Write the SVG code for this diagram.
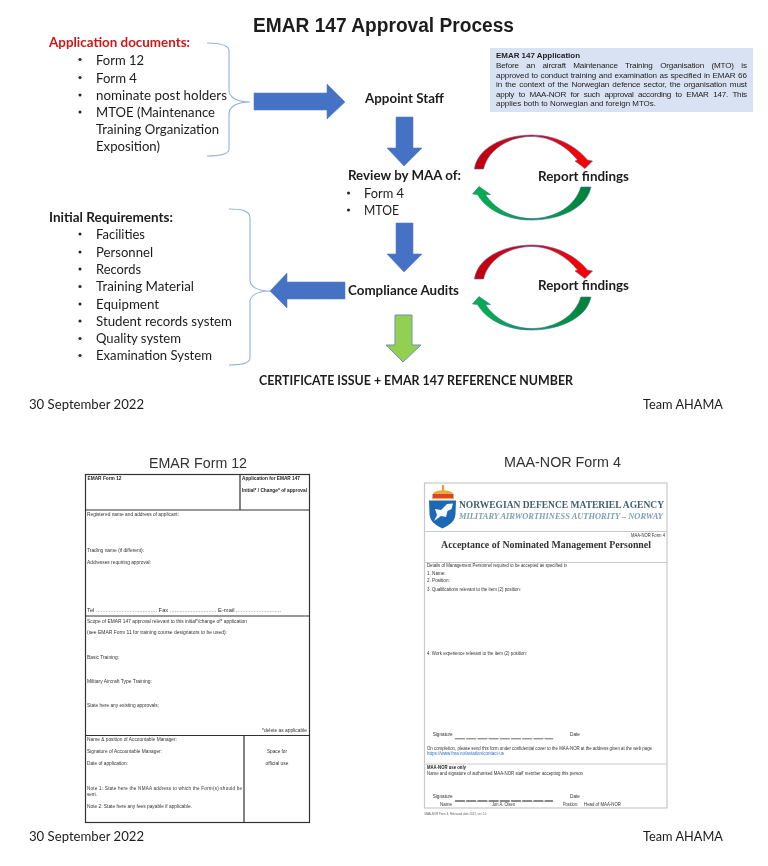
<svg xmlns="http://www.w3.org/2000/svg" width="768" height="866" viewBox="0 0 768 866">
<style>
text{font-family:"Lato","Liberation Sans",sans-serif;fill:#1c1c1c;font-size:14px}
.b{font-weight:700}
.t{font-family:"Liberation Sans",Arial,sans-serif}
.s{font-family:"Liberation Sans",Arial,sans-serif;font-size:8.1px;fill:#222}
.f{font-family:"Liberation Sans",Arial,sans-serif;font-size:4.6px;fill:#333}
.fb{font-family:"Liberation Sans",Arial,sans-serif;font-size:4.6px;fill:#222;font-weight:700}
.g{font-family:"Liberation Sans",Arial,sans-serif;font-size:15px;fill:#333}
.k{fill:none;stroke:#8fb0e3;stroke-width:1.1}
.a{fill:#4472c4;stroke:#5b82c8;stroke-width:.6}
.ln{fill:none;stroke:#333;stroke-width:1.2}
.lg{fill:none;stroke:#c9c9c9;stroke-width:1.2}
.ca{stroke:#4a68a8;stroke-width:.6}
.d{fill:#222}
</style>
<defs>
<filter id="soft" x="-2%" y="-2%" width="104%" height="104%"><feGaussianBlur stdDeviation="0.3"/></filter>
<filter id="softer" x="-2%" y="-2%" width="104%" height="104%"><feGaussianBlur stdDeviation="0.35"/></filter>
<linearGradient id="red" x1="0" x2="1" y1="0" y2="0"><stop offset="0" stop-color="#c00010"/><stop offset=".75" stop-color="#f00008"/><stop offset="1" stop-color="#ff0000"/></linearGradient>
<linearGradient id="green" x1="0" x2="1" y1="0" y2="0"><stop offset="0" stop-color="#00b050"/><stop offset=".6" stop-color="#00a048"/><stop offset="1" stop-color="#008038"/></linearGradient>
<g id="cycle">
<path class="ca" fill="url(#red)" d="M474.500 169C477 149 502 135 532 135C556 135 576 146 587.500 160L592.500 161L585 168.500L575 161L577.500 160C567 147 551 136.500 532 136.500C508 136.500 488 150 483.500 169Z"/>
<path class="ca" fill="url(#green)" d="M590.800 187C588 206 562 220 532 220C505 220 486 209 477.500 194.500L472.500 194L479 186.500L490.500 194.500L485.500 194.500C494 208 511 218.500 532 218.500C556 218.500 576 205 580.800 187Z"/>
</g>
</defs>
<g filter="url(#soft)">
<g id="title"><text class="t b" x="253" y="32" style="font-size:20px" textLength="261" lengthAdjust="spacingAndGlyphs">EMAR 147 Approval Process</text></g>
<g id="connectors">
<path class="k" d="M207 43C218 43 229 44 229 51V90C229 98 238 102 250 102C238 102 229 106 229 114V149C229 155 218 156 207 156"/>
<path class="k" d="M229 209C240 209 250 210 250 218V280C250 287 258 291 270 291C258 291 250 295 250 302V358C250 364 240 365 229 365"/>
<polygon class="a" points="254,93 327,93 327,84 345,102 327,119 327,110 254,110"/>
<polygon class="a" points="396,117 413,117 413,148 422,148 404,166 387,148 396,148"/>
<polygon class="a" points="396,223 413,223 413,254 422,254 404,272 387,254 396,254"/>
<polygon class="a" points="345,282 287,282 287,273 270,291 287,308 287,299 345,299"/>
<polygon fill="#92d050" stroke="#6f8fc0" stroke-width="1" points="395,315 412,315 412,345 421,345 403,362 386,345 395,345"/>
<use href="#cycle"/>
<use href="#cycle" y="110"/>
</g>
<g id="application-documents">
<text class="b" x="49" y="47" style="fill:#d01818" textLength="141" lengthAdjust="spacingAndGlyphs">Application documents:</text>
<circle class="d" cx="80" cy="59.500" r="1.500"/><text x="96" y="65" textLength="48" lengthAdjust="spacingAndGlyphs">Form 12</text>
<circle class="d" cx="80" cy="77.500" r="1.500"/><text x="96" y="83" textLength="41" lengthAdjust="spacingAndGlyphs">Form 4</text>
<circle class="d" cx="80" cy="95" r="1.500"/><text x="96" y="100" textLength="131" lengthAdjust="spacingAndGlyphs">nominate post holders</text>
<circle class="d" cx="80" cy="112" r="1.500"/><text x="96" y="117" textLength="119" lengthAdjust="spacingAndGlyphs">MTOE (Maintenance</text>
<text x="96" y="134" textLength="123" lengthAdjust="spacingAndGlyphs">Training Organization</text>
<text x="96" y="151" textLength="64" lengthAdjust="spacingAndGlyphs">Exposition)</text>
</g>
<g id="initial-requirements">
<text class="b" x="49" y="222" textLength="124" lengthAdjust="spacingAndGlyphs">Initial Requirements:</text>
<circle class="d" cx="80" cy="234" r="1.500"/><text x="96" y="239" textLength="49" lengthAdjust="spacingAndGlyphs">Facilities</text>
<circle class="d" cx="80" cy="252" r="1.500"/><text x="96" y="257" textLength="57" lengthAdjust="spacingAndGlyphs">Personnel</text>
<circle class="d" cx="80" cy="269" r="1.500"/><text x="96" y="274" textLength="45" lengthAdjust="spacingAndGlyphs">Records</text>
<circle class="d" cx="80" cy="286.500" r="1.500"/><text x="96" y="291" textLength="98" lengthAdjust="spacingAndGlyphs">Training Material</text>
<circle class="d" cx="80" cy="304" r="1.500"/><text x="96" y="309" textLength="63" lengthAdjust="spacingAndGlyphs">Equipment</text>
<circle class="d" cx="80" cy="321" r="1.500"/><text x="96" y="326" textLength="136" lengthAdjust="spacingAndGlyphs">Student records system</text>
<circle class="d" cx="80" cy="338.500" r="1.500"/><text x="96" y="343" textLength="85" lengthAdjust="spacingAndGlyphs">Quality system</text>
<circle class="d" cx="80" cy="355.500" r="1.500"/><text x="96" y="360" textLength="116" lengthAdjust="spacingAndGlyphs">Examination System</text>
</g>
<g id="appoint-staff"><text class="b" x="365" y="103" textLength="79" lengthAdjust="spacingAndGlyphs">Appoint Staff</text></g>
<g id="review">
<text class="b" x="348" y="180" textLength="113" lengthAdjust="spacingAndGlyphs">Review by MAA of:</text>
<circle class="d" cx="348.500" cy="193" r="1.500"/><text x="364" y="198" textLength="40" lengthAdjust="spacingAndGlyphs">Form 4</text>
<circle class="d" cx="348.500" cy="210" r="1.500"/><text x="364" y="215" textLength="35" lengthAdjust="spacingAndGlyphs">MTOE</text>
</g>
<g id="report-findings-1"><text class="b" x="538" y="181" textLength="91" lengthAdjust="spacingAndGlyphs">Report findings</text></g>
<g id="compliance-audits"><text class="b" x="348" y="295" textLength="111" lengthAdjust="spacingAndGlyphs">Compliance Audits</text></g>
<g id="report-findings-2"><text class="b" x="538" y="290" textLength="91" lengthAdjust="spacingAndGlyphs">Report findings</text></g>
<g id="certificate"><text class="b" x="259" y="385" textLength="314" lengthAdjust="spacingAndGlyphs">CERTIFICATE ISSUE + EMAR 147 REFERENCE NUMBER</text></g>
<g id="info-box">
<rect x="490" y="48" width="263" height="64" fill="#d9e2f3"/>
<text class="s b" x="496" y="58" textLength="84" lengthAdjust="spacingAndGlyphs">EMAR 147 Application</text>
<text class="s" x="496" y="67.500" word-spacing="5.4" textLength="251">Before an aircraft Maintenance Training Organisation (MTO) is</text>
<text class="s" x="496" y="77.500" word-spacing="0.5" textLength="251">approved to conduct training and examination as specified in EMAR 66</text>
<text class="s" x="496" y="87" word-spacing="1" textLength="251">in the context of the Norwegian defence sector, the organisation must</text>
<text class="s" x="496" y="97" word-spacing="2.5" textLength="251">apply to MAA-NOR for such approval according to EMAR 147. This</text>
<text class="s" x="496" y="106" textLength="160" lengthAdjust="spacingAndGlyphs">applies both to Norwegian and foreign MTOs.</text>
</g>
<g id="footer-1">
<text x="29" y="409" textLength="115" lengthAdjust="spacingAndGlyphs">30 September 2022</text>
<text x="643" y="409" textLength="80" lengthAdjust="spacingAndGlyphs">Team AHAMA</text>
</g>
<g id="footer-2">
<text x="29" y="841" textLength="115" lengthAdjust="spacingAndGlyphs">30 September 2022</text>
<text x="643" y="841" textLength="80" lengthAdjust="spacingAndGlyphs">Team AHAMA</text>
</g>
<text class="g" x="149" y="468" textLength="98" lengthAdjust="spacingAndGlyphs">EMAR Form 12</text>
<text class="g" x="504" y="467" textLength="117" lengthAdjust="spacingAndGlyphs">MAA-NOR Form 4</text>
</g>
<g id="emar-form-12" filter="url(#softer)">
<rect class="ln" x="85.500" y="474.500" width="224" height="348"/>
<path class="ln" d="M85.500 510H309.500M85.500 616H309.500M85.500 735.500H309.500M240 474.500V510M244 735.500V822.500"/>
<text class="fb" x="87.500" y="480" textLength="34" lengthAdjust="spacingAndGlyphs">EMAR Form 12</text>
<text class="fb" x="242" y="480" textLength="58" lengthAdjust="spacingAndGlyphs">Application for EMAR 147</text>
<text class="fb" x="242" y="492" textLength="65" lengthAdjust="spacingAndGlyphs">Initial* / Change* of approval</text>
<text class="f" x="87" y="515.500" textLength="92" lengthAdjust="spacingAndGlyphs">Registered name and address of applicant:</text>
<text class="f" x="87" y="551.500" textLength="57" lengthAdjust="spacingAndGlyphs">Trading name (if different):</text>
<text class="f" x="87" y="564" textLength="64" lengthAdjust="spacingAndGlyphs">Addresses requiring approval:</text>
<text class="f" x="87" y="612" textLength="194" lengthAdjust="spacingAndGlyphs">Tel ...................................... Fax ............................. E-mail ............................</text>
<text class="f" x="87" y="622.500" textLength="160" lengthAdjust="spacingAndGlyphs">Scope of EMAR 147 approval relevant to this initial*/change of* application</text>
<text class="f" x="87" y="633.500" textLength="140" lengthAdjust="spacingAndGlyphs">(see EMAR Form 11 for training course designators to be used):</text>
<text class="f" x="87" y="659" textLength="32" lengthAdjust="spacingAndGlyphs">Basic Training:</text>
<text class="f" x="87" y="683" textLength="65" lengthAdjust="spacingAndGlyphs">Military Aircraft Type Training:</text>
<text class="f" x="87" y="707" textLength="72" lengthAdjust="spacingAndGlyphs">State here any existing approvals:</text>
<text class="f" x="262" y="732" textLength="45" lengthAdjust="spacingAndGlyphs">*delete as applicable</text>
<text class="f" x="87" y="741" textLength="90" lengthAdjust="spacingAndGlyphs">Name &amp; position of Accountable Manager:</text>
<text class="f" x="87" y="753" textLength="75" lengthAdjust="spacingAndGlyphs">Signature of Accountable Manager:</text>
<text class="f" x="87" y="765" textLength="41" lengthAdjust="spacingAndGlyphs">Date of application:</text>
<text class="f" x="87" y="790" textLength="155">Note 1: State here the NMAA address to which the Form(s) should be</text>
<text class="f" x="87" y="796">sent.</text>
<text class="f" x="87" y="808" textLength="105" lengthAdjust="spacingAndGlyphs">Note 2: State here any fees payable if applicable.</text>
<text class="f" x="267" y="753" textLength="20" lengthAdjust="spacingAndGlyphs">Space for</text>
<text class="f" x="265.500" y="765" textLength="23" lengthAdjust="spacingAndGlyphs">official use</text>
</g>
<g id="maa-nor-form-4" filter="url(#softer)">
<rect class="lg" x="424.500" y="483" width="242.500" height="325"/>
<path class="lg" d="M424.500 531.500H667M424.500 562.500H667M424.500 764H667"/>
<path d="M429 500.500H456L455.500 514C455 522 449 525 442.500 528.500C436 525 430 522 429.500 514Z" fill="#1f68b4"/>
<path d="M434 521L437 515L435 509L441 510L447 504L453 503.500L451.500 509L447.500 511L446 517L441 516Z" fill="#f4f7fb"/>
<rect x="442" y="485" width="2" height="7" fill="#e59a2c"/>
<path d="M433 494C434 489 452 489 453 494Z" fill="#eea83a"/>
<rect x="432.500" y="494" width="21" height="5" fill="#d8452c"/>
<rect x="432.500" y="498" width="21" height="1.300" fill="#eeb23a"/>
<text x="459" y="507.700" style="font-family:'Liberation Serif',serif;font-size:9.500px;fill:#3f5f73;font-weight:700" textLength="205" lengthAdjust="spacingAndGlyphs">NORWEGIAN DEFENCE MATERIEL AGENCY</text>
<text x="459" y="518.700" style="font-family:'Liberation Serif',serif;font-size:8.500px;fill:#7fa0b5;font-weight:700;font-style:italic" textLength="204" lengthAdjust="spacingAndGlyphs">MILITARY AIRWORTHINESS AUTHORITY – NORWAY</text>
<text class="f" x="631" y="537" textLength="34" lengthAdjust="spacingAndGlyphs">MAA-NOR Form 4</text>
<text x="441" y="548.300" style="font-family:'Liberation Serif',serif;font-size:9.500px;fill:#333;font-weight:700" textLength="210" lengthAdjust="spacingAndGlyphs">Acceptance of Nominated Management Personnel</text>
<text class="f" x="427" y="567" textLength="140" lengthAdjust="spacingAndGlyphs">Details of Management Personnel required to be accepted as specified in</text>
<text class="f" x="427" y="575">1.  Name:</text>
<text class="f" x="427" y="582">2.  Position:</text>
<text class="f" x="427" y="590.700" textLength="94" lengthAdjust="spacingAndGlyphs">3.  Qualifications relevant to the item (2) position:</text>
<text class="f" x="427" y="655" textLength="100" lengthAdjust="spacingAndGlyphs">4.  Work experience relevant to the item (2) position:</text>
<text class="f" x="432.700" y="736" textLength="20" lengthAdjust="spacingAndGlyphs">Signature</text>
<text class="f" x="570" y="736" textLength="10" lengthAdjust="spacingAndGlyphs">Date</text>
<path d="M455 738.800H553" fill="none" stroke="#444" stroke-width=".8" stroke-dasharray="10 1.200"/>
<text class="f" x="427" y="749.700" textLength="225" lengthAdjust="spacingAndGlyphs">On completion, please send this form under confidential cover to the MAA-NOR at the address given at the web page</text>
<text class="f" x="427" y="755" style="fill:#2a6fd0" textLength="77" lengthAdjust="spacingAndGlyphs">https://www.fma.no/aviation/contact-us</text>
<text class="fb" x="427" y="768.700" textLength="39" lengthAdjust="spacingAndGlyphs">MAA-NOR use only</text>
<text class="f" x="427" y="774.700" textLength="156" lengthAdjust="spacingAndGlyphs">Name and signature of authorised MAA-NOR staff member accepting this person</text>
<text class="f" x="432.700" y="797.700" textLength="20" lengthAdjust="spacingAndGlyphs">Signature</text>
<text class="f" x="570" y="797.700" textLength="10" lengthAdjust="spacingAndGlyphs">Date</text>
<path d="M455 801H553" fill="none" stroke="#111" stroke-width="1" stroke-dasharray="10 1.200"/>
<text class="f" x="440" y="805.700" textLength="12" lengthAdjust="spacingAndGlyphs">Name</text>
<text class="f" x="492" y="805.700" textLength="23" lengthAdjust="spacingAndGlyphs">Jon A. Olsen</text>
<text class="f" x="563" y="805.700" textLength="15" lengthAdjust="spacingAndGlyphs">Position:</text>
<text class="f" x="584" y="805.700" textLength="37" lengthAdjust="spacingAndGlyphs">Head of MAA-NOR</text>
<text class="f" x="424.500" y="815" style="font-size:3px;fill:#666" textLength="62" lengthAdjust="spacingAndGlyphs">MAA-NOR Form 4, Released date 2021, ver 1.0</text>
</g>
</svg>
